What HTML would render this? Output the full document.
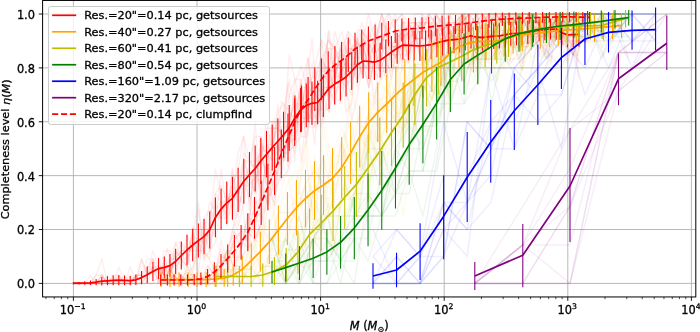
<!DOCTYPE html>
<html><head><meta charset="utf-8"><title>Completeness level</title>
<style>html,body{margin:0;padding:0;background:#fff}body{width:700px;height:332px;overflow:hidden}</style></head>
<body>
<svg width="700" height="332" viewBox="0 0 700 332" style="display:block;font-family:'DejaVu Sans','Liberation Sans',sans-serif">
<style>text{stroke:#000;stroke-width:0.3px;fill:#000}</style>
<rect width="700" height="332" fill="#fff"/>
<line x1="73.40" y1="0.45" x2="73.40" y2="296.95" stroke="#b0b0b0" stroke-width="0.9"/>
<line x1="197.00" y1="0.45" x2="197.00" y2="296.95" stroke="#b0b0b0" stroke-width="0.9"/>
<line x1="320.60" y1="0.45" x2="320.60" y2="296.95" stroke="#b0b0b0" stroke-width="0.9"/>
<line x1="444.20" y1="0.45" x2="444.20" y2="296.95" stroke="#b0b0b0" stroke-width="0.9"/>
<line x1="567.80" y1="0.45" x2="567.80" y2="296.95" stroke="#b0b0b0" stroke-width="0.9"/>
<line x1="691.40" y1="0.45" x2="691.40" y2="296.95" stroke="#b0b0b0" stroke-width="0.9"/>
<line x1="42.60" y1="283.40" x2="695.80" y2="283.40" stroke="#b0b0b0" stroke-width="0.9"/>
<line x1="42.60" y1="229.52" x2="695.80" y2="229.52" stroke="#b0b0b0" stroke-width="0.9"/>
<line x1="42.60" y1="175.64" x2="695.80" y2="175.64" stroke="#b0b0b0" stroke-width="0.9"/>
<line x1="42.60" y1="121.76" x2="695.80" y2="121.76" stroke="#b0b0b0" stroke-width="0.9"/>
<line x1="42.60" y1="67.88" x2="695.80" y2="67.88" stroke="#b0b0b0" stroke-width="0.9"/>
<line x1="42.60" y1="14.00" x2="695.80" y2="14.00" stroke="#b0b0b0" stroke-width="0.9"/>
<clipPath id="c"><rect x="42.6" y="0.45" width="653.1999999999999" height="296.5"/></clipPath>
<g clip-path="url(#c)" stroke-linejoin="round">
<polyline fill="none" points="73.4,283.4 79.1,283.4 84.8,283.4 90.4,283.4 96.1,275.2 101.8,275.2 107.5,283.4 113.2,283.4 118.8,283.4 124.5,283.4 130.2,283.4 135.9,283.4 141.6,275.2 147.2,283.4 152.9,267.1 158.6,267.1 164.3,283.4 170.0,267.1 175.6,267.1 181.3,258.9 187.0,258.9 192.7,234.4 198.4,242.6 204.0,250.7 209.7,226.3 215.4,201.8 221.1,218.1 226.8,218.1 232.4,201.8 238.1,152.8 243.8,136.5 249.5,160.9 255.2,136.5 260.8,136.5 266.5,160.9 272.2,120.1 277.9,152.8 283.6,136.5 289.2,120.1 294.9,103.8 300.6,103.8 306.3,103.8 312.0,87.5 317.6,87.5 323.3,95.6 329.0,112.0 334.7,87.5 340.4,71.1 346.0,63.0 351.7,71.1 357.4,46.7 363.1,46.7 368.8,63.0 374.4,38.5 380.1,54.8 385.8,46.7 391.5,63.0 397.2,54.8 402.8,54.8 408.5,54.8 414.2,38.5 419.9,54.8 425.6,38.5 431.2,46.7 436.9,38.5 442.6,38.5 448.3,22.2 454.0,30.3 459.6,71.1 465.3,30.3 471.0,38.5 476.7,38.5 482.4,46.7 488.0,38.5 493.7,38.5 499.4,22.2 505.1,22.2 510.8,22.2 516.4,22.2 522.1,22.2 527.8,22.2 533.5,30.3 539.2,22.2 544.8,46.7 550.5,30.3 556.2,30.3 561.9,38.5 567.6,22.2 573.2,54.8 578.9,46.7" stroke="#ff0000" stroke-width="1.5" stroke-opacity="0.065"/>
<polyline fill="none" points="73.4,283.4 79.1,283.4 84.8,283.4 90.4,283.4 96.1,283.4 101.8,275.2 107.5,283.4 113.2,283.4 118.8,283.4 124.5,283.4 130.2,283.4 135.9,275.2 141.6,275.2 147.2,258.9 152.9,258.9 158.6,267.1 164.3,283.4 170.0,267.1 175.6,242.6 181.3,242.6 187.0,250.7 192.7,250.7 198.4,250.7 204.0,250.7 209.7,258.9 215.4,193.6 221.1,201.8 226.8,226.3 232.4,201.8 238.1,226.3 243.8,201.8 249.5,160.9 255.2,160.9 260.8,160.9 266.5,169.1 272.2,152.8 277.9,177.3 283.6,128.3 289.2,95.6 294.9,79.3 300.6,79.3 306.3,144.6 312.0,103.8 317.6,120.1 323.3,71.1 329.0,71.1 334.7,95.6 340.4,103.8 346.0,71.1 351.7,46.7 357.4,87.5 363.1,46.7 368.8,71.1 374.4,46.7 380.1,71.1 385.8,71.1 391.5,63.0 397.2,38.5 402.8,54.8 408.5,30.3 414.2,38.5 419.9,38.5 425.6,63.0 431.2,30.3 436.9,63.0 442.6,54.8 448.3,71.1 454.0,30.3 459.6,30.3 465.3,30.3 471.0,46.7 476.7,63.0 482.4,46.7 488.0,38.5 493.7,30.3 499.4,46.7 505.1,46.7 510.8,22.2 516.4,22.2 522.1,46.7 527.8,46.7 533.5,22.2 539.2,22.2 544.8,30.3 550.5,30.3 556.2,14.0 561.9,46.7 567.6,38.5 573.2,46.7 578.9,22.2" stroke="#ff0000" stroke-width="1.5" stroke-opacity="0.065"/>
<polyline fill="none" points="73.4,283.4 79.1,283.4 84.8,283.4 90.4,275.2 96.1,283.4 101.8,275.2 107.5,283.4 113.2,283.4 118.8,275.2 124.5,283.4 130.2,283.4 135.9,283.4 141.6,258.9 147.2,275.2 152.9,258.9 158.6,283.4 164.3,267.1 170.0,283.4 175.6,242.6 181.3,258.9 187.0,275.2 192.7,267.1 198.4,242.6 204.0,258.9 209.7,250.7 215.4,218.1 221.1,209.9 226.8,201.8 232.4,193.6 238.1,193.6 243.8,177.3 249.5,201.8 255.2,185.4 260.8,144.6 266.5,177.3 272.2,128.3 277.9,128.3 283.6,136.5 289.2,54.8 294.9,79.3 300.6,103.8 306.3,87.5 312.0,112.0 317.6,120.1 323.3,95.6 329.0,95.6 334.7,79.3 340.4,46.7 346.0,71.1 351.7,63.0 357.4,71.1 363.1,38.5 368.8,46.7 374.4,79.3 380.1,46.7 385.8,54.8 391.5,79.3 397.2,38.5 402.8,30.3 408.5,54.8 414.2,46.7 419.9,46.7 425.6,22.2 431.2,38.5 436.9,14.0 442.6,30.3 448.3,46.7 454.0,22.2 459.6,30.3 465.3,71.1 471.0,63.0 476.7,38.5 482.4,46.7 488.0,38.5 493.7,30.3 499.4,46.7 505.1,22.2 510.8,46.7 516.4,14.0 522.1,46.7 527.8,38.5 533.5,30.3 539.2,30.3 544.8,30.3 550.5,38.5 556.2,14.0 561.9,30.3 567.6,46.7 573.2,54.8 578.9,22.2" stroke="#ff0000" stroke-width="1.5" stroke-opacity="0.065"/>
<polyline fill="none" points="73.4,283.4 79.1,283.4 84.8,283.4 90.4,283.4 96.1,283.4 101.8,283.4 107.5,275.2 113.2,283.4 118.8,283.4 124.5,283.4 130.2,283.4 135.9,275.2 141.6,275.2 147.2,267.1 152.9,258.9 158.6,275.2 164.3,250.7 170.0,250.7 175.6,258.9 181.3,250.7 187.0,267.1 192.7,234.4 198.4,258.9 204.0,234.4 209.7,250.7 215.4,242.6 221.1,201.8 226.8,201.8 232.4,185.4 238.1,169.1 243.8,136.5 249.5,209.9 255.2,160.9 260.8,152.8 266.5,144.6 272.2,152.8 277.9,144.6 283.6,160.9 289.2,128.3 294.9,120.1 300.6,120.1 306.3,79.3 312.0,95.6 317.6,71.1 323.3,71.1 329.0,30.3 334.7,71.1 340.4,63.0 346.0,79.3 351.7,71.1 357.4,79.3 363.1,63.0 368.8,87.5 374.4,54.8 380.1,71.1 385.8,54.8 391.5,54.8 397.2,38.5 402.8,71.1 408.5,54.8 414.2,30.3 419.9,46.7 425.6,87.5 431.2,22.2 436.9,38.5 442.6,46.7 448.3,22.2 454.0,46.7 459.6,38.5 465.3,46.7 471.0,38.5 476.7,54.8 482.4,30.3 488.0,38.5 493.7,14.0 499.4,38.5 505.1,30.3 510.8,63.0 516.4,54.8 522.1,22.2 527.8,14.0 533.5,22.2 539.2,22.2 544.8,38.5 550.5,30.3 556.2,30.3 561.9,30.3 567.6,14.0 573.2,30.3 578.9,79.3" stroke="#ff0000" stroke-width="1.5" stroke-opacity="0.065"/>
<polyline fill="none" points="73.4,283.4 79.1,283.4 84.8,283.4 90.4,283.4 96.1,283.4 101.8,283.4 107.5,283.4 113.2,283.4 118.8,283.4 124.5,283.4 130.2,283.4 135.9,275.2 141.6,283.4 147.2,275.2 152.9,267.1 158.6,267.1 164.3,275.2 170.0,275.2 175.6,250.7 181.3,258.9 187.0,267.1 192.7,226.3 198.4,275.2 204.0,218.1 209.7,242.6 215.4,226.3 221.1,169.1 226.8,209.9 232.4,185.4 238.1,193.6 243.8,152.8 249.5,160.9 255.2,169.1 260.8,193.6 266.5,160.9 272.2,144.6 277.9,128.3 283.6,136.5 289.2,112.0 294.9,120.1 300.6,112.0 306.3,112.0 312.0,120.1 317.6,112.0 323.3,87.5 329.0,87.5 334.7,103.8 340.4,71.1 346.0,87.5 351.7,120.1 357.4,95.6 363.1,63.0 368.8,54.8 374.4,63.0 380.1,71.1 385.8,54.8 391.5,46.7 397.2,46.7 402.8,22.2 408.5,38.5 414.2,30.3 419.9,54.8 425.6,71.1 431.2,30.3 436.9,22.2 442.6,46.7 448.3,30.3 454.0,38.5 459.6,22.2 465.3,22.2 471.0,38.5 476.7,38.5 482.4,54.8 488.0,63.0 493.7,30.3 499.4,38.5 505.1,30.3 510.8,30.3 516.4,30.3 522.1,63.0 527.8,38.5 533.5,22.2 539.2,38.5 544.8,54.8 550.5,46.7 556.2,30.3 561.9,14.0 567.6,46.7 573.2,54.8 578.9,38.5" stroke="#ff0000" stroke-width="1.5" stroke-opacity="0.065"/>
<polyline fill="none" points="73.4,283.4 79.1,283.4 84.8,283.4 90.4,283.4 96.1,283.4 101.8,283.4 107.5,283.4 113.2,275.2 118.8,283.4 124.5,283.4 130.2,283.4 135.9,275.2 141.6,283.4 147.2,267.1 152.9,267.1 158.6,283.4 164.3,267.1 170.0,258.9 175.6,258.9 181.3,242.6 187.0,258.9 192.7,242.6 198.4,250.7 204.0,218.1 209.7,209.9 215.4,218.1 221.1,218.1 226.8,209.9 232.4,193.6 238.1,218.1 243.8,177.3 249.5,185.4 255.2,177.3 260.8,169.1 266.5,128.3 272.2,128.3 277.9,128.3 283.6,112.0 289.2,79.3 294.9,112.0 300.6,136.5 306.3,136.5 312.0,103.8 317.6,95.6 323.3,120.1 329.0,87.5 334.7,87.5 340.4,87.5 346.0,46.7 351.7,87.5 357.4,38.5 363.1,63.0 368.8,87.5 374.4,63.0 380.1,54.8 385.8,63.0 391.5,71.1 397.2,54.8 402.8,22.2 408.5,63.0 414.2,22.2 419.9,54.8 425.6,63.0 431.2,30.3 436.9,46.7 442.6,46.7 448.3,30.3 454.0,30.3 459.6,22.2 465.3,22.2 471.0,22.2 476.7,30.3 482.4,46.7 488.0,38.5 493.7,46.7 499.4,38.5 505.1,46.7 510.8,22.2 516.4,30.3 522.1,14.0 527.8,30.3 533.5,46.7 539.2,30.3 544.8,22.2 550.5,22.2 556.2,22.2 561.9,46.7 567.6,63.0 573.2,38.5 578.9,63.0" stroke="#ff0000" stroke-width="1.5" stroke-opacity="0.065"/>
<polyline fill="none" points="73.4,283.4 79.1,283.4 84.8,283.4 90.4,283.4 96.1,283.4 101.8,283.4 107.5,283.4 113.2,283.4 118.8,267.1 124.5,283.4 130.2,267.1 135.9,283.4 141.6,258.9 147.2,275.2 152.9,267.1 158.6,283.4 164.3,267.1 170.0,275.2 175.6,258.9 181.3,250.7 187.0,250.7 192.7,234.4 198.4,201.8 204.0,258.9 209.7,226.3 215.4,209.9 221.1,201.8 226.8,218.1 232.4,169.1 238.1,201.8 243.8,160.9 249.5,177.3 255.2,193.6 260.8,136.5 266.5,185.4 272.2,169.1 277.9,144.6 283.6,160.9 289.2,144.6 294.9,112.0 300.6,87.5 306.3,87.5 312.0,38.5 317.6,112.0 323.3,63.0 329.0,71.1 334.7,71.1 340.4,79.3 346.0,87.5 351.7,71.1 357.4,63.0 363.1,38.5 368.8,54.8 374.4,46.7 380.1,71.1 385.8,22.2 391.5,54.8 397.2,54.8 402.8,46.7 408.5,22.2 414.2,38.5 419.9,38.5 425.6,38.5 431.2,38.5 436.9,71.1 442.6,54.8 448.3,54.8 454.0,46.7 459.6,30.3 465.3,63.0 471.0,30.3 476.7,22.2 482.4,46.7 488.0,30.3 493.7,46.7 499.4,46.7 505.1,30.3 510.8,30.3 516.4,38.5 522.1,38.5 527.8,30.3 533.5,22.2 539.2,22.2 544.8,30.3 550.5,30.3 556.2,38.5 561.9,38.5 567.6,30.3 573.2,22.2 578.9,38.5" stroke="#ff0000" stroke-width="1.5" stroke-opacity="0.065"/>
<polyline fill="none" points="73.4,283.4 79.1,283.4 84.8,283.4 90.4,283.4 96.1,283.4 101.8,283.4 107.5,283.4 113.2,275.2 118.8,275.2 124.5,283.4 130.2,275.2 135.9,283.4 141.6,283.4 147.2,283.4 152.9,283.4 158.6,275.2 164.3,258.9 170.0,275.2 175.6,250.7 181.3,258.9 187.0,267.1 192.7,242.6 198.4,242.6 204.0,242.6 209.7,226.3 215.4,169.1 221.1,193.6 226.8,218.1 232.4,169.1 238.1,209.9 243.8,185.4 249.5,185.4 255.2,120.1 260.8,218.1 266.5,144.6 272.2,144.6 277.9,120.1 283.6,144.6 289.2,144.6 294.9,136.5 300.6,79.3 306.3,120.1 312.0,95.6 317.6,128.3 323.3,95.6 329.0,63.0 334.7,95.6 340.4,79.3 346.0,71.1 351.7,79.3 357.4,63.0 363.1,30.3 368.8,87.5 374.4,54.8 380.1,46.7 385.8,30.3 391.5,63.0 397.2,71.1 402.8,46.7 408.5,54.8 414.2,38.5 419.9,38.5 425.6,38.5 431.2,38.5 436.9,46.7 442.6,30.3 448.3,22.2 454.0,46.7 459.6,30.3 465.3,30.3 471.0,22.2 476.7,14.0 482.4,38.5 488.0,30.3 493.7,54.8 499.4,14.0 505.1,46.7 510.8,14.0 516.4,22.2 522.1,14.0 527.8,30.3 533.5,22.2 539.2,22.2 544.8,54.8 550.5,30.3 556.2,46.7 561.9,46.7 567.6,30.3 573.2,38.5 578.9,22.2" stroke="#ff0000" stroke-width="1.5" stroke-opacity="0.065"/>
<polyline fill="none" points="73.4,283.4 79.1,283.4 84.8,283.4 90.4,283.4 96.1,283.4 101.8,275.2 107.5,283.4 113.2,283.4 118.8,283.4 124.5,275.2 130.2,283.4 135.9,283.4 141.6,283.4 147.2,275.2 152.9,250.7 158.6,267.1 164.3,275.2 170.0,258.9 175.6,275.2 181.3,250.7 187.0,250.7 192.7,275.2 198.4,242.6 204.0,234.4 209.7,201.8 215.4,209.9 221.1,218.1 226.8,193.6 232.4,209.9 238.1,177.3 243.8,177.3 249.5,169.1 255.2,193.6 260.8,144.6 266.5,152.8 272.2,160.9 277.9,103.8 283.6,152.8 289.2,169.1 294.9,120.1 300.6,87.5 306.3,136.5 312.0,103.8 317.6,87.5 323.3,103.8 329.0,112.0 334.7,63.0 340.4,79.3 346.0,79.3 351.7,95.6 357.4,38.5 363.1,63.0 368.8,71.1 374.4,71.1 380.1,79.3 385.8,63.0 391.5,54.8 397.2,54.8 402.8,30.3 408.5,63.0 414.2,46.7 419.9,22.2 425.6,63.0 431.2,54.8 436.9,46.7 442.6,22.2 448.3,46.7 454.0,30.3 459.6,54.8 465.3,22.2 471.0,30.3 476.7,22.2 482.4,14.0 488.0,30.3 493.7,38.5 499.4,30.3 505.1,30.3 510.8,54.8 516.4,38.5 522.1,54.8 527.8,22.2 533.5,22.2 539.2,54.8 544.8,14.0 550.5,38.5 556.2,46.7 561.9,38.5 567.6,38.5 573.2,30.3 578.9,30.3" stroke="#ff0000" stroke-width="1.5" stroke-opacity="0.065"/>
<polyline fill="none" points="73.4,283.4 79.1,283.4 84.8,283.4 90.4,283.4 96.1,275.2 101.8,258.9 107.5,283.4 113.2,283.4 118.8,275.2 124.5,283.4 130.2,283.4 135.9,275.2 141.6,275.2 147.2,275.2 152.9,267.1 158.6,275.2 164.3,267.1 170.0,275.2 175.6,258.9 181.3,267.1 187.0,234.4 192.7,250.7 198.4,209.9 204.0,250.7 209.7,218.1 215.4,193.6 221.1,185.4 226.8,201.8 232.4,193.6 238.1,201.8 243.8,160.9 249.5,160.9 255.2,169.1 260.8,160.9 266.5,120.1 272.2,152.8 277.9,112.0 283.6,103.8 289.2,144.6 294.9,120.1 300.6,112.0 306.3,103.8 312.0,63.0 317.6,120.1 323.3,87.5 329.0,87.5 334.7,79.3 340.4,54.8 346.0,112.0 351.7,103.8 357.4,30.3 363.1,30.3 368.8,54.8 374.4,103.8 380.1,54.8 385.8,79.3 391.5,46.7 397.2,46.7 402.8,63.0 408.5,46.7 414.2,38.5 419.9,46.7 425.6,46.7 431.2,38.5 436.9,30.3 442.6,30.3 448.3,46.7 454.0,30.3 459.6,30.3 465.3,30.3 471.0,71.1 476.7,71.1 482.4,38.5 488.0,30.3 493.7,30.3 499.4,54.8 505.1,38.5 510.8,46.7 516.4,46.7 522.1,46.7 527.8,46.7 533.5,30.3 539.2,22.2 544.8,38.5 550.5,63.0 556.2,30.3 561.9,22.2 567.6,54.8 573.2,54.8 578.9,54.8" stroke="#ff0000" stroke-width="1.5" stroke-opacity="0.065"/>
<polyline fill="none" points="161.0,283.4 170.0,269.2 179.1,283.4 188.1,283.4 197.1,255.0 206.2,255.0 215.2,269.2 224.2,283.4 233.2,269.2 242.3,269.2 251.3,269.2 260.3,226.7 269.4,240.9 278.4,240.9 287.4,226.7 296.4,240.9 305.5,226.7 314.5,184.1 323.5,198.3 332.6,198.3 341.6,141.6 350.6,198.3 359.7,184.1 368.7,113.3 377.7,141.6 386.8,127.4 395.8,113.3 404.8,42.4 413.8,84.9 422.9,70.7 431.9,56.5 440.9,56.5 450.0,56.5 459.0,42.4 468.0,42.4 477.0,28.2 486.1,28.2 495.1,42.4 504.1,70.7 513.2,14.0 522.2,42.4 531.2,42.4 540.3,42.4 549.3,28.2 558.3,14.0 567.3,14.0 576.4,42.4 585.4,42.4 594.4,42.4 603.5,14.0 612.5,14.0 621.5,14.0" stroke="#ffa500" stroke-width="1.5" stroke-opacity="0.065"/>
<polyline fill="none" points="161.0,283.4 170.0,283.4 179.1,283.4 188.1,269.2 197.1,283.4 206.2,283.4 215.2,283.4 224.2,283.4 233.2,269.2 242.3,283.4 251.3,255.0 260.3,226.7 269.4,226.7 278.4,198.3 287.4,170.0 296.4,226.7 305.5,226.7 314.5,155.8 323.5,198.3 332.6,212.5 341.6,155.8 350.6,155.8 359.7,113.3 368.7,170.0 377.7,113.3 386.8,170.0 395.8,70.7 404.8,42.4 413.8,113.3 422.9,56.5 431.9,99.1 440.9,56.5 450.0,56.5 459.0,28.2 468.0,28.2 477.0,42.4 486.1,70.7 495.1,56.5 504.1,56.5 513.2,42.4 522.2,70.7 531.2,28.2 540.3,14.0 549.3,14.0 558.3,28.2 567.3,28.2 576.4,14.0 585.4,14.0 594.4,14.0 603.5,14.0 612.5,14.0 621.5,28.2" stroke="#ffa500" stroke-width="1.5" stroke-opacity="0.065"/>
<polyline fill="none" points="161.0,283.4 170.0,269.2 179.1,283.4 188.1,269.2 197.1,283.4 206.2,283.4 215.2,283.4 224.2,269.2 233.2,269.2 242.3,269.2 251.3,269.2 260.3,283.4 269.4,255.0 278.4,269.2 287.4,226.7 296.4,226.7 305.5,184.1 314.5,170.0 323.5,184.1 332.6,184.1 341.6,184.1 350.6,99.1 359.7,212.5 368.7,127.4 377.7,141.6 386.8,99.1 395.8,99.1 404.8,70.7 413.8,127.4 422.9,84.9 431.9,99.1 440.9,70.7 450.0,28.2 459.0,42.4 468.0,42.4 477.0,70.7 486.1,42.4 495.1,28.2 504.1,42.4 513.2,42.4 522.2,70.7 531.2,42.4 540.3,14.0 549.3,70.7 558.3,14.0 567.3,28.2 576.4,56.5 585.4,28.2 594.4,28.2 603.5,28.2 612.5,14.0 621.5,14.0" stroke="#ffa500" stroke-width="1.5" stroke-opacity="0.065"/>
<polyline fill="none" points="161.0,283.4 170.0,283.4 179.1,283.4 188.1,283.4 197.1,283.4 206.2,269.2 215.2,283.4 224.2,283.4 233.2,269.2 242.3,283.4 251.3,240.9 260.3,240.9 269.4,240.9 278.4,226.7 287.4,226.7 296.4,212.5 305.5,184.1 314.5,240.9 323.5,212.5 332.6,155.8 341.6,155.8 350.6,141.6 359.7,113.3 368.7,99.1 377.7,113.3 386.8,84.9 395.8,113.3 404.8,113.3 413.8,99.1 422.9,84.9 431.9,99.1 440.9,70.7 450.0,42.4 459.0,28.2 468.0,14.0 477.0,42.4 486.1,56.5 495.1,42.4 504.1,14.0 513.2,42.4 522.2,42.4 531.2,28.2 540.3,28.2 549.3,14.0 558.3,28.2 567.3,14.0 576.4,28.2 585.4,42.4 594.4,28.2 603.5,14.0 612.5,42.4 621.5,28.2" stroke="#ffa500" stroke-width="1.5" stroke-opacity="0.065"/>
<polyline fill="none" points="161.0,269.2 170.0,283.4 179.1,283.4 188.1,283.4 197.1,283.4 206.2,283.4 215.2,283.4 224.2,283.4 233.2,240.9 242.3,269.2 251.3,255.0 260.3,226.7 269.4,269.2 278.4,212.5 287.4,212.5 296.4,212.5 305.5,184.1 314.5,170.0 323.5,184.1 332.6,170.0 341.6,141.6 350.6,170.0 359.7,170.0 368.7,127.4 377.7,155.8 386.8,113.3 395.8,99.1 404.8,141.6 413.8,84.9 422.9,56.5 431.9,70.7 440.9,56.5 450.0,99.1 459.0,28.2 468.0,42.4 477.0,42.4 486.1,14.0 495.1,42.4 504.1,42.4 513.2,28.2 522.2,70.7 531.2,14.0 540.3,42.4 549.3,28.2 558.3,28.2 567.3,28.2 576.4,28.2 585.4,42.4 594.4,14.0 603.5,28.2 612.5,28.2 621.5,14.0" stroke="#ffa500" stroke-width="1.5" stroke-opacity="0.065"/>
<polyline fill="none" points="161.0,283.4 170.0,269.2 179.1,283.4 188.1,283.4 197.1,283.4 206.2,283.4 215.2,283.4 224.2,255.0 233.2,283.4 242.3,283.4 251.3,255.0 260.3,283.4 269.4,255.0 278.4,212.5 287.4,212.5 296.4,198.3 305.5,155.8 314.5,226.7 323.5,113.3 332.6,170.0 341.6,155.8 350.6,212.5 359.7,170.0 368.7,113.3 377.7,99.1 386.8,113.3 395.8,84.9 404.8,127.4 413.8,113.3 422.9,56.5 431.9,42.4 440.9,56.5 450.0,113.3 459.0,28.2 468.0,42.4 477.0,28.2 486.1,42.4 495.1,70.7 504.1,28.2 513.2,14.0 522.2,42.4 531.2,42.4 540.3,28.2 549.3,14.0 558.3,28.2 567.3,42.4 576.4,28.2 585.4,14.0 594.4,28.2 603.5,14.0 612.5,28.2 621.5,14.0" stroke="#ffa500" stroke-width="1.5" stroke-opacity="0.065"/>
<polyline fill="none" points="161.0,283.4 170.0,283.4 179.1,283.4 188.1,283.4 197.1,283.4 206.2,255.0 215.2,269.2 224.2,269.2 233.2,283.4 242.3,240.9 251.3,226.7 260.3,269.2 269.4,255.0 278.4,255.0 287.4,240.9 296.4,184.1 305.5,141.6 314.5,184.1 323.5,198.3 332.6,155.8 341.6,127.4 350.6,155.8 359.7,141.6 368.7,113.3 377.7,113.3 386.8,99.1 395.8,56.5 404.8,127.4 413.8,84.9 422.9,84.9 431.9,56.5 440.9,84.9 450.0,42.4 459.0,70.7 468.0,84.9 477.0,28.2 486.1,42.4 495.1,14.0 504.1,56.5 513.2,42.4 522.2,14.0 531.2,56.5 540.3,56.5 549.3,28.2 558.3,42.4 567.3,14.0 576.4,28.2 585.4,14.0 594.4,14.0 603.5,14.0 612.5,28.2 621.5,14.0" stroke="#ffa500" stroke-width="1.5" stroke-opacity="0.065"/>
<polyline fill="none" points="161.0,269.2 170.0,283.4 179.1,283.4 188.1,269.2 197.1,269.2 206.2,283.4 215.2,283.4 224.2,269.2 233.2,269.2 242.3,269.2 251.3,240.9 260.3,269.2 269.4,184.1 278.4,240.9 287.4,240.9 296.4,198.3 305.5,198.3 314.5,184.1 323.5,155.8 332.6,255.0 341.6,198.3 350.6,184.1 359.7,141.6 368.7,113.3 377.7,127.4 386.8,99.1 395.8,42.4 404.8,113.3 413.8,84.9 422.9,70.7 431.9,56.5 440.9,84.9 450.0,56.5 459.0,28.2 468.0,42.4 477.0,84.9 486.1,28.2 495.1,14.0 504.1,14.0 513.2,14.0 522.2,14.0 531.2,28.2 540.3,56.5 549.3,56.5 558.3,56.5 567.3,28.2 576.4,28.2 585.4,14.0 594.4,42.4 603.5,14.0 612.5,28.2 621.5,14.0" stroke="#ffa500" stroke-width="1.5" stroke-opacity="0.065"/>
<polyline fill="none" points="161.0,283.4 170.0,283.4 179.1,283.4 188.1,283.4 197.1,283.4 206.2,283.4 215.2,269.2 224.2,283.4 233.2,255.0 242.3,269.2 251.3,269.2 260.3,255.0 269.4,198.3 278.4,240.9 287.4,212.5 296.4,212.5 305.5,141.6 314.5,240.9 323.5,127.4 332.6,184.1 341.6,141.6 350.6,184.1 359.7,155.8 368.7,113.3 377.7,84.9 386.8,70.7 395.8,70.7 404.8,127.4 413.8,70.7 422.9,56.5 431.9,84.9 440.9,56.5 450.0,56.5 459.0,28.2 468.0,28.2 477.0,28.2 486.1,28.2 495.1,28.2 504.1,42.4 513.2,28.2 522.2,28.2 531.2,14.0 540.3,28.2 549.3,28.2 558.3,14.0 567.3,42.4 576.4,56.5 585.4,28.2 594.4,14.0 603.5,56.5 612.5,14.0 621.5,14.0" stroke="#ffa500" stroke-width="1.5" stroke-opacity="0.065"/>
<polyline fill="none" points="161.0,269.2 170.0,269.2 179.1,283.4 188.1,283.4 197.1,283.4 206.2,283.4 215.2,269.2 224.2,283.4 233.2,283.4 242.3,283.4 251.3,226.7 260.3,212.5 269.4,240.9 278.4,212.5 287.4,184.1 296.4,170.0 305.5,226.7 314.5,198.3 323.5,155.8 332.6,198.3 341.6,170.0 350.6,84.9 359.7,127.4 368.7,127.4 377.7,84.9 386.8,70.7 395.8,127.4 404.8,113.3 413.8,56.5 422.9,113.3 431.9,99.1 440.9,56.5 450.0,84.9 459.0,28.2 468.0,28.2 477.0,70.7 486.1,42.4 495.1,28.2 504.1,28.2 513.2,28.2 522.2,14.0 531.2,28.2 540.3,28.2 549.3,14.0 558.3,42.4 567.3,14.0 576.4,14.0 585.4,42.4 594.4,28.2 603.5,14.0 612.5,14.0 621.5,14.0" stroke="#ffa500" stroke-width="1.5" stroke-opacity="0.065"/>
<polyline fill="none" points="216.0,283.4 227.7,249.7 239.4,283.4 251.1,266.6 262.8,283.4 274.5,283.4 286.2,249.7 297.9,249.7 309.6,266.6 321.3,232.9 333.0,199.2 344.7,199.2 356.4,199.2 368.1,182.4 379.8,165.5 391.5,131.9 403.2,216.0 414.9,131.9 426.6,81.3 438.3,98.2 450.0,30.8 461.7,64.5 473.4,64.5 485.1,30.8 496.8,47.7 508.5,30.8 520.2,14.0 531.9,64.5 543.6,14.0 555.3,30.8 567.0,14.0 578.7,30.8 590.4,14.0 602.1,47.7 613.8,14.0 625.5,30.8" stroke="#bfbf00" stroke-width="1.5" stroke-opacity="0.065"/>
<polyline fill="none" points="216.0,283.4 227.7,266.6 239.4,266.6 251.1,283.4 262.8,283.4 274.5,283.4 286.2,266.6 297.9,266.6 309.6,266.6 321.3,216.0 333.0,199.2 344.7,216.0 356.4,216.0 368.1,131.9 379.8,165.5 391.5,81.3 403.2,148.7 414.9,64.5 426.6,64.5 438.3,64.5 450.0,64.5 461.7,30.8 473.4,30.8 485.1,47.7 496.8,14.0 508.5,64.5 520.2,14.0 531.9,14.0 543.6,14.0 555.3,14.0 567.0,47.7 578.7,14.0 590.4,30.8 602.1,30.8 613.8,14.0 625.5,14.0" stroke="#bfbf00" stroke-width="1.5" stroke-opacity="0.065"/>
<polyline fill="none" points="216.0,266.6 227.7,283.4 239.4,266.6 251.1,283.4 262.8,283.4 274.5,232.9 286.2,283.4 297.9,216.0 309.6,249.7 321.3,216.0 333.0,249.7 344.7,216.0 356.4,199.2 368.1,148.7 379.8,81.3 391.5,98.2 403.2,64.5 414.9,98.2 426.6,131.9 438.3,115.0 450.0,98.2 461.7,64.5 473.4,47.7 485.1,14.0 496.8,81.3 508.5,30.8 520.2,30.8 531.9,14.0 543.6,14.0 555.3,14.0 567.0,47.7 578.7,30.8 590.4,30.8 602.1,14.0 613.8,30.8 625.5,14.0" stroke="#bfbf00" stroke-width="1.5" stroke-opacity="0.065"/>
<polyline fill="none" points="216.0,283.4 227.7,283.4 239.4,283.4 251.1,266.6 262.8,283.4 274.5,266.6 286.2,232.9 297.9,266.6 309.6,232.9 321.3,216.0 333.0,216.0 344.7,216.0 356.4,182.4 368.1,131.9 379.8,165.5 391.5,148.7 403.2,98.2 414.9,81.3 426.6,131.9 438.3,30.8 450.0,98.2 461.7,14.0 473.4,64.5 485.1,30.8 496.8,47.7 508.5,30.8 520.2,14.0 531.9,14.0 543.6,14.0 555.3,14.0 567.0,14.0 578.7,14.0 590.4,47.7 602.1,30.8 613.8,14.0 625.5,14.0" stroke="#bfbf00" stroke-width="1.5" stroke-opacity="0.065"/>
<polyline fill="none" points="216.0,283.4 227.7,249.7 239.4,283.4 251.1,283.4 262.8,266.6 274.5,266.6 286.2,249.7 297.9,249.7 309.6,232.9 321.3,232.9 333.0,182.4 344.7,131.9 356.4,199.2 368.1,199.2 379.8,98.2 391.5,115.0 403.2,131.9 414.9,64.5 426.6,81.3 438.3,47.7 450.0,14.0 461.7,14.0 473.4,30.8 485.1,47.7 496.8,30.8 508.5,30.8 520.2,30.8 531.9,14.0 543.6,30.8 555.3,30.8 567.0,14.0 578.7,14.0 590.4,14.0 602.1,14.0 613.8,14.0 625.5,14.0" stroke="#bfbf00" stroke-width="1.5" stroke-opacity="0.065"/>
<polyline fill="none" points="216.0,283.4 227.7,283.4 239.4,283.4 251.1,283.4 262.8,266.6 274.5,266.6 286.2,283.4 297.9,266.6 309.6,232.9 321.3,216.0 333.0,216.0 344.7,199.2 356.4,131.9 368.1,148.7 379.8,98.2 391.5,98.2 403.2,131.9 414.9,98.2 426.6,64.5 438.3,30.8 450.0,98.2 461.7,14.0 473.4,64.5 485.1,30.8 496.8,64.5 508.5,14.0 520.2,14.0 531.9,30.8 543.6,30.8 555.3,30.8 567.0,14.0 578.7,30.8 590.4,14.0 602.1,14.0 613.8,14.0 625.5,14.0" stroke="#bfbf00" stroke-width="1.5" stroke-opacity="0.065"/>
<polyline fill="none" points="216.0,266.6 227.7,283.4 239.4,283.4 251.1,283.4 262.8,249.7 274.5,249.7 286.2,283.4 297.9,266.6 309.6,199.2 321.3,232.9 333.0,249.7 344.7,182.4 356.4,216.0 368.1,216.0 379.8,131.9 391.5,199.2 403.2,81.3 414.9,131.9 426.6,81.3 438.3,98.2 450.0,47.7 461.7,47.7 473.4,47.7 485.1,30.8 496.8,30.8 508.5,14.0 520.2,47.7 531.9,30.8 543.6,14.0 555.3,47.7 567.0,14.0 578.7,14.0 590.4,30.8 602.1,30.8 613.8,14.0 625.5,14.0" stroke="#bfbf00" stroke-width="1.5" stroke-opacity="0.065"/>
<polyline fill="none" points="216.0,283.4 227.7,266.6 239.4,283.4 251.1,283.4 262.8,266.6 274.5,283.4 286.2,266.6 297.9,249.7 309.6,182.4 321.3,232.9 333.0,232.9 344.7,182.4 356.4,148.7 368.1,182.4 379.8,148.7 391.5,148.7 403.2,115.0 414.9,131.9 426.6,47.7 438.3,98.2 450.0,30.8 461.7,47.7 473.4,81.3 485.1,47.7 496.8,81.3 508.5,47.7 520.2,47.7 531.9,14.0 543.6,30.8 555.3,30.8 567.0,14.0 578.7,14.0 590.4,30.8 602.1,47.7 613.8,14.0 625.5,14.0" stroke="#bfbf00" stroke-width="1.5" stroke-opacity="0.065"/>
<polyline fill="none" points="216.0,283.4 227.7,283.4 239.4,283.4 251.1,283.4 262.8,283.4 274.5,266.6 286.2,266.6 297.9,232.9 309.6,249.7 321.3,165.5 333.0,249.7 344.7,182.4 356.4,216.0 368.1,199.2 379.8,115.0 391.5,131.9 403.2,98.2 414.9,47.7 426.6,115.0 438.3,81.3 450.0,14.0 461.7,47.7 473.4,47.7 485.1,14.0 496.8,14.0 508.5,47.7 520.2,47.7 531.9,14.0 543.6,14.0 555.3,30.8 567.0,30.8 578.7,30.8 590.4,30.8 602.1,30.8 613.8,30.8 625.5,14.0" stroke="#bfbf00" stroke-width="1.5" stroke-opacity="0.065"/>
<polyline fill="none" points="216.0,266.6 227.7,249.7 239.4,283.4 251.1,283.4 262.8,266.6 274.5,266.6 286.2,266.6 297.9,283.4 309.6,249.7 321.3,232.9 333.0,199.2 344.7,148.7 356.4,182.4 368.1,165.5 379.8,148.7 391.5,131.9 403.2,131.9 414.9,64.5 426.6,64.5 438.3,98.2 450.0,64.5 461.7,47.7 473.4,30.8 485.1,30.8 496.8,14.0 508.5,64.5 520.2,30.8 531.9,30.8 543.6,30.8 555.3,30.8 567.0,14.0 578.7,14.0 590.4,14.0 602.1,14.0 613.8,14.0 625.5,30.8" stroke="#bfbf00" stroke-width="1.5" stroke-opacity="0.065"/>
<polyline fill="none" points="272.0,238.5 285.7,283.4 299.4,238.5 313.2,283.4 326.9,283.4 340.6,260.9 354.3,238.5 368.0,260.9 381.8,216.0 395.5,216.0 409.2,171.1 422.9,171.1 436.6,103.8 450.4,36.5 464.1,36.5 477.8,14.0 491.5,103.8 505.2,36.5 519.0,14.0 532.7,36.5 546.4,14.0 560.1,36.5 573.8,14.0 587.6,14.0 601.3,36.5 615.0,14.0 628.7,14.0" stroke="#008000" stroke-width="1.5" stroke-opacity="0.065"/>
<polyline fill="none" points="272.0,283.4 285.7,260.9 299.4,283.4 313.2,238.5 326.9,238.5 340.6,283.4 354.3,216.0 368.0,193.6 381.8,193.6 395.5,171.1 409.2,148.7 422.9,81.3 436.6,36.5 450.4,103.8 464.1,58.9 477.8,58.9 491.5,58.9 505.2,58.9 519.0,36.5 532.7,14.0 546.4,36.5 560.1,14.0 573.8,36.5 587.6,14.0 601.3,14.0 615.0,14.0 628.7,58.9" stroke="#008000" stroke-width="1.5" stroke-opacity="0.065"/>
<polyline fill="none" points="272.0,238.5 285.7,260.9 299.4,260.9 313.2,193.6 326.9,238.5 340.6,260.9 354.3,193.6 368.0,148.7 381.8,193.6 395.5,171.1 409.2,148.7 422.9,81.3 436.6,126.2 450.4,58.9 464.1,81.3 477.8,36.5 491.5,36.5 505.2,58.9 519.0,81.3 532.7,14.0 546.4,58.9 560.1,14.0 573.8,14.0 587.6,14.0 601.3,14.0 615.0,14.0 628.7,14.0" stroke="#008000" stroke-width="1.5" stroke-opacity="0.065"/>
<polyline fill="none" points="272.0,260.9 285.7,283.4 299.4,260.9 313.2,260.9 326.9,260.9 340.6,238.5 354.3,193.6 368.0,193.6 381.8,216.0 395.5,171.1 409.2,81.3 422.9,171.1 436.6,171.1 450.4,103.8 464.1,103.8 477.8,36.5 491.5,36.5 505.2,14.0 519.0,14.0 532.7,14.0 546.4,36.5 560.1,36.5 573.8,36.5 587.6,14.0 601.3,36.5 615.0,36.5 628.7,14.0" stroke="#008000" stroke-width="1.5" stroke-opacity="0.065"/>
<polyline fill="none" points="272.0,260.9 285.7,238.5 299.4,260.9 313.2,283.4 326.9,283.4 340.6,238.5 354.3,216.0 368.0,216.0 381.8,216.0 395.5,148.7 409.2,171.1 422.9,171.1 436.6,103.8 450.4,103.8 464.1,58.9 477.8,36.5 491.5,58.9 505.2,36.5 519.0,14.0 532.7,14.0 546.4,14.0 560.1,36.5 573.8,14.0 587.6,14.0 601.3,58.9 615.0,36.5 628.7,14.0" stroke="#008000" stroke-width="1.5" stroke-opacity="0.065"/>
<polyline fill="none" points="272.0,260.9 285.7,260.9 299.4,216.0 313.2,283.4 326.9,238.5 340.6,260.9 354.3,238.5 368.0,148.7 381.8,148.7 395.5,193.6 409.2,148.7 422.9,148.7 436.6,103.8 450.4,58.9 464.1,14.0 477.8,58.9 491.5,58.9 505.2,36.5 519.0,14.0 532.7,14.0 546.4,36.5 560.1,36.5 573.8,36.5 587.6,14.0 601.3,14.0 615.0,14.0 628.7,14.0" stroke="#008000" stroke-width="1.5" stroke-opacity="0.065"/>
<polyline fill="none" points="272.0,238.5 285.7,283.4 299.4,260.9 313.2,238.5 326.9,216.0 340.6,260.9 354.3,260.9 368.0,216.0 381.8,216.0 395.5,193.6 409.2,193.6 422.9,126.2 436.6,126.2 450.4,81.3 464.1,14.0 477.8,58.9 491.5,36.5 505.2,14.0 519.0,58.9 532.7,14.0 546.4,36.5 560.1,14.0 573.8,14.0 587.6,14.0 601.3,14.0 615.0,36.5 628.7,36.5" stroke="#008000" stroke-width="1.5" stroke-opacity="0.065"/>
<polyline fill="none" points="272.0,283.4 285.7,238.5 299.4,283.4 313.2,238.5 326.9,260.9 340.6,238.5 354.3,238.5 368.0,238.5 381.8,171.1 395.5,193.6 409.2,171.1 422.9,216.0 436.6,148.7 450.4,36.5 464.1,14.0 477.8,58.9 491.5,81.3 505.2,58.9 519.0,58.9 532.7,36.5 546.4,14.0 560.1,14.0 573.8,36.5 587.6,36.5 601.3,36.5 615.0,14.0 628.7,14.0" stroke="#008000" stroke-width="1.5" stroke-opacity="0.065"/>
<polyline fill="none" points="272.0,283.4 285.7,283.4 299.4,260.9 313.2,238.5 326.9,216.0 340.6,216.0 354.3,216.0 368.0,216.0 381.8,216.0 395.5,148.7 409.2,126.2 422.9,148.7 436.6,103.8 450.4,81.3 464.1,81.3 477.8,36.5 491.5,36.5 505.2,14.0 519.0,36.5 532.7,36.5 546.4,36.5 560.1,14.0 573.8,36.5 587.6,36.5 601.3,14.0 615.0,14.0 628.7,14.0" stroke="#008000" stroke-width="1.5" stroke-opacity="0.065"/>
<polyline fill="none" points="272.0,283.4 285.7,283.4 299.4,283.4 313.2,260.9 326.9,260.9 340.6,260.9 354.3,283.4 368.0,193.6 381.8,216.0 395.5,193.6 409.2,148.7 422.9,126.2 436.6,58.9 450.4,58.9 464.1,103.8 477.8,81.3 491.5,14.0 505.2,14.0 519.0,14.0 532.7,36.5 546.4,58.9 560.1,14.0 573.8,14.0 587.6,36.5 601.3,14.0 615.0,14.0 628.7,14.0" stroke="#008000" stroke-width="1.5" stroke-opacity="0.065"/>
<polyline fill="none" points="373.0,283.4 396.6,283.4 420.1,256.5 443.6,202.6 467.2,229.5 490.8,202.6 514.3,94.8 537.9,67.9 561.4,40.9 585.0,67.9 608.5,14.0 632.0,67.9 655.6,14.0" stroke="#0000ff" stroke-width="1.5" stroke-opacity="0.065"/>
<polyline fill="none" points="373.0,283.4 396.6,256.5 420.1,283.4 443.6,202.6 467.2,229.5 490.8,121.8 514.3,121.8 537.9,67.9 561.4,148.7 585.0,14.0 608.5,14.0 632.0,40.9 655.6,14.0" stroke="#0000ff" stroke-width="1.5" stroke-opacity="0.065"/>
<polyline fill="none" points="373.0,256.5 396.6,229.5 420.1,256.5 443.6,175.6 467.2,175.6 490.8,121.8 514.3,94.8 537.9,121.8 561.4,94.8 585.0,14.0 608.5,14.0 632.0,14.0 655.6,14.0" stroke="#0000ff" stroke-width="1.5" stroke-opacity="0.065"/>
<polyline fill="none" points="373.0,283.4 396.6,283.4 420.1,283.4 443.6,256.5 467.2,121.8 490.8,148.7 514.3,94.8 537.9,67.9 561.4,14.0 585.0,14.0 608.5,67.9 632.0,14.0 655.6,40.9" stroke="#0000ff" stroke-width="1.5" stroke-opacity="0.065"/>
<polyline fill="none" points="373.0,283.4 396.6,256.5 420.1,283.4 443.6,229.5 467.2,256.5 490.8,67.9 514.3,67.9 537.9,94.8 561.4,94.8 585.0,14.0 608.5,14.0 632.0,14.0 655.6,40.9" stroke="#0000ff" stroke-width="1.5" stroke-opacity="0.065"/>
<polyline fill="none" points="373.0,229.5 396.6,283.4 420.1,283.4 443.6,202.6 467.2,202.6 490.8,67.9 514.3,148.7 537.9,40.9 561.4,14.0 585.0,94.8 608.5,40.9 632.0,14.0 655.6,14.0" stroke="#0000ff" stroke-width="1.5" stroke-opacity="0.065"/>
<polyline fill="none" points="373.0,283.4 396.6,283.4 420.1,256.5 443.6,256.5 467.2,202.6 490.8,175.6 514.3,67.9 537.9,40.9 561.4,14.0 585.0,40.9 608.5,40.9 632.0,40.9 655.6,14.0" stroke="#0000ff" stroke-width="1.5" stroke-opacity="0.065"/>
<polyline fill="none" points="373.0,283.4 396.6,283.4 420.1,283.4 443.6,229.5 467.2,202.6 490.8,148.7 514.3,67.9 537.9,40.9 561.4,67.9 585.0,14.0 608.5,40.9 632.0,14.0 655.6,14.0" stroke="#0000ff" stroke-width="1.5" stroke-opacity="0.065"/>
<polyline fill="none" points="373.0,256.5 396.6,283.4 420.1,283.4 443.6,256.5 467.2,121.8 490.8,148.7 514.3,94.8 537.9,67.9 561.4,40.9 585.0,40.9 608.5,14.0 632.0,40.9 655.6,40.9" stroke="#0000ff" stroke-width="1.5" stroke-opacity="0.065"/>
<polyline fill="none" points="373.0,283.4 396.6,229.5 420.1,256.5 443.6,121.8 467.2,202.6 490.8,148.7 514.3,148.7 537.9,94.8 561.4,14.0 585.0,14.0 608.5,14.0 632.0,14.0 655.6,14.0" stroke="#0000ff" stroke-width="1.5" stroke-opacity="0.065"/>
<polyline fill="none" points="474.8,283.4 522.8,244.9 570.0,206.4 618.5,91.0 666.8,52.5" stroke="#800080" stroke-width="1.5" stroke-opacity="0.065"/>
<polyline fill="none" points="474.8,283.4 522.8,244.9 570.0,167.9 618.5,52.5 666.8,52.5" stroke="#800080" stroke-width="1.5" stroke-opacity="0.065"/>
<polyline fill="none" points="474.8,283.4 522.8,206.4 570.0,129.5 618.5,52.5 666.8,52.5" stroke="#800080" stroke-width="1.5" stroke-opacity="0.065"/>
<polyline fill="none" points="474.8,283.4 522.8,283.4 570.0,206.4 618.5,52.5 666.8,52.5" stroke="#800080" stroke-width="1.5" stroke-opacity="0.065"/>
<polyline fill="none" points="474.8,283.4 522.8,283.4 570.0,283.4 618.5,52.5 666.8,14.0" stroke="#800080" stroke-width="1.5" stroke-opacity="0.065"/>
<polyline fill="none" points="474.8,283.4 522.8,283.4 570.0,283.4 618.5,52.5 666.8,14.0" stroke="#800080" stroke-width="1.5" stroke-opacity="0.065"/>
<polyline fill="none" points="474.8,283.4 522.8,244.9 570.0,283.4 618.5,91.0 666.8,52.5" stroke="#800080" stroke-width="1.5" stroke-opacity="0.065"/>
<polyline fill="none" points="474.8,283.4 522.8,244.9 570.0,244.9 618.5,52.5 666.8,14.0" stroke="#800080" stroke-width="1.5" stroke-opacity="0.065"/>
<polyline fill="none" points="474.8,283.4 522.8,283.4 570.0,206.4 618.5,52.5 666.8,52.5" stroke="#800080" stroke-width="1.5" stroke-opacity="0.065"/>
<polyline fill="none" points="474.8,283.4 522.8,244.9 570.0,129.5 618.5,91.0 666.8,14.0" stroke="#800080" stroke-width="1.5" stroke-opacity="0.065"/>
<polyline fill="none" points="160.7,274.7 167.4,283.4 174.1,274.7 180.8,274.7 187.5,283.4 194.2,283.4 200.9,283.4 207.6,283.4 214.3,266.0 221.0,283.4 227.7,257.3 234.4,266.0 241.1,248.6 247.8,222.6 254.5,196.5 261.2,222.6 267.9,179.1 274.6,205.2 281.3,127.0 288.0,127.0 294.7,100.9 301.4,118.3 308.1,57.5 314.8,109.6 321.5,109.6 328.2,109.6 334.9,57.5 341.6,48.8 348.3,83.5 355.0,74.8 361.7,66.1 368.4,66.1 375.1,40.1 381.8,14.0 388.5,40.1 395.2,48.8 401.9,22.7 408.6,22.7 415.3,22.7 422.0,31.4 428.7,31.4 435.4,14.0 442.1,22.7 448.8,22.7 455.5,31.4 462.2,22.7 468.9,14.0 475.6,14.0 482.3,14.0 489.0,22.7 495.7,22.7 502.4,14.0 509.1,22.7 515.8,14.0 522.5,22.7 529.2,14.0 535.9,22.7 542.6,14.0 549.3,14.0 556.0,14.0 562.7,22.7 569.4,14.0 576.1,22.7 582.8,14.0 589.5,22.7" stroke="#ff0000" stroke-width="1.5" stroke-opacity="0.065"/>
<polyline fill="none" points="160.7,283.4 167.4,283.4 174.1,274.7 180.8,283.4 187.5,274.7 194.2,283.4 200.9,283.4 207.6,283.4 214.3,266.0 221.0,266.0 227.7,248.6 234.4,231.3 241.1,248.6 247.8,213.9 254.5,213.9 261.2,153.0 267.9,187.8 274.6,118.3 281.3,153.0 288.0,153.0 294.7,144.4 301.4,135.7 308.1,92.2 314.8,66.1 321.5,40.1 328.2,100.9 334.9,48.8 341.6,74.8 348.3,48.8 355.0,48.8 361.7,74.8 368.4,40.1 375.1,22.7 381.8,48.8 388.5,14.0 395.2,31.4 401.9,40.1 408.6,22.7 415.3,40.1 422.0,14.0 428.7,22.7 435.4,40.1 442.1,31.4 448.8,22.7 455.5,22.7 462.2,14.0 468.9,31.4 475.6,14.0 482.3,22.7 489.0,14.0 495.7,22.7 502.4,14.0 509.1,22.7 515.8,22.7 522.5,14.0 529.2,14.0 535.9,14.0 542.6,22.7 549.3,22.7 556.0,14.0 562.7,31.4 569.4,22.7 576.1,14.0 582.8,22.7 589.5,22.7" stroke="#ff0000" stroke-width="1.5" stroke-opacity="0.065"/>
<polyline fill="none" points="160.7,274.7 167.4,274.7 174.1,283.4 180.8,283.4 187.5,274.7 194.2,274.7 200.9,283.4 207.6,274.7 214.3,274.7 221.0,248.6 227.7,266.0 234.4,239.9 241.1,231.3 247.8,239.9 254.5,161.7 261.2,179.1 267.9,205.2 274.6,179.1 281.3,179.1 288.0,170.4 294.7,100.9 301.4,161.7 308.1,92.2 314.8,92.2 321.5,66.1 328.2,83.5 334.9,74.8 341.6,83.5 348.3,57.5 355.0,40.1 361.7,48.8 368.4,14.0 375.1,40.1 381.8,14.0 388.5,48.8 395.2,40.1 401.9,40.1 408.6,31.4 415.3,14.0 422.0,14.0 428.7,40.1 435.4,14.0 442.1,22.7 448.8,14.0 455.5,22.7 462.2,22.7 468.9,14.0 475.6,14.0 482.3,14.0 489.0,22.7 495.7,14.0 502.4,14.0 509.1,14.0 515.8,22.7 522.5,31.4 529.2,14.0 535.9,31.4 542.6,14.0 549.3,14.0 556.0,14.0 562.7,31.4 569.4,14.0 576.1,22.7 582.8,14.0 589.5,14.0" stroke="#ff0000" stroke-width="1.5" stroke-opacity="0.065"/>
<polyline fill="none" points="160.7,283.4 167.4,283.4 174.1,283.4 180.8,274.7 187.5,283.4 194.2,274.7 200.9,283.4 207.6,283.4 214.3,274.7 221.0,266.0 227.7,257.3 234.4,257.3 241.1,257.3 247.8,248.6 254.5,222.6 261.2,196.5 267.9,153.0 274.6,196.5 281.3,170.4 288.0,135.7 294.7,135.7 301.4,100.9 308.1,92.2 314.8,144.4 321.5,40.1 328.2,48.8 334.9,48.8 341.6,66.1 348.3,40.1 355.0,40.1 361.7,48.8 368.4,40.1 375.1,31.4 381.8,57.5 388.5,31.4 395.2,14.0 401.9,40.1 408.6,48.8 415.3,22.7 422.0,31.4 428.7,14.0 435.4,22.7 442.1,57.5 448.8,22.7 455.5,22.7 462.2,14.0 468.9,14.0 475.6,14.0 482.3,14.0 489.0,22.7 495.7,22.7 502.4,14.0 509.1,14.0 515.8,31.4 522.5,22.7 529.2,14.0 535.9,40.1 542.6,14.0 549.3,14.0 556.0,14.0 562.7,14.0 569.4,14.0 576.1,14.0 582.8,14.0 589.5,14.0" stroke="#ff0000" stroke-width="1.5" stroke-opacity="0.065"/>
<polyline fill="none" points="160.7,283.4 167.4,283.4 174.1,274.7 180.8,283.4 187.5,266.0 194.2,283.4 200.9,283.4 207.6,274.7 214.3,283.4 221.0,239.9 227.7,266.0 234.4,231.3 241.1,248.6 247.8,213.9 254.5,231.3 261.2,187.8 267.9,205.2 274.6,161.7 281.3,161.7 288.0,83.5 294.7,161.7 301.4,83.5 308.1,57.5 314.8,127.0 321.5,100.9 328.2,40.1 334.9,48.8 341.6,57.5 348.3,31.4 355.0,40.1 361.7,74.8 368.4,48.8 375.1,40.1 381.8,22.7 388.5,31.4 395.2,48.8 401.9,48.8 408.6,31.4 415.3,31.4 422.0,31.4 428.7,14.0 435.4,14.0 442.1,31.4 448.8,22.7 455.5,31.4 462.2,14.0 468.9,22.7 475.6,22.7 482.3,22.7 489.0,14.0 495.7,14.0 502.4,22.7 509.1,14.0 515.8,14.0 522.5,14.0 529.2,14.0 535.9,22.7 542.6,14.0 549.3,22.7 556.0,14.0 562.7,14.0 569.4,22.7 576.1,14.0 582.8,14.0 589.5,14.0" stroke="#ff0000" stroke-width="1.5" stroke-opacity="0.065"/>
<polyline fill="none" points="160.7,274.7 167.4,266.0 174.1,283.4 180.8,283.4 187.5,283.4 194.2,274.7 200.9,283.4 207.6,283.4 214.3,274.7 221.0,266.0 227.7,274.7 234.4,266.0 241.1,266.0 247.8,231.3 254.5,239.9 261.2,222.6 267.9,196.5 274.6,179.1 281.3,161.7 288.0,144.4 294.7,83.5 301.4,66.1 308.1,92.2 314.8,83.5 321.5,127.0 328.2,31.4 334.9,83.5 341.6,40.1 348.3,57.5 355.0,57.5 361.7,57.5 368.4,31.4 375.1,48.8 381.8,14.0 388.5,31.4 395.2,57.5 401.9,40.1 408.6,22.7 415.3,22.7 422.0,22.7 428.7,22.7 435.4,48.8 442.1,14.0 448.8,31.4 455.5,31.4 462.2,14.0 468.9,31.4 475.6,40.1 482.3,22.7 489.0,14.0 495.7,14.0 502.4,22.7 509.1,22.7 515.8,14.0 522.5,22.7 529.2,14.0 535.9,40.1 542.6,14.0 549.3,14.0 556.0,14.0 562.7,14.0 569.4,22.7 576.1,14.0 582.8,31.4 589.5,14.0" stroke="#ff0000" stroke-width="1.5" stroke-opacity="0.065"/>
<polyline fill="none" points="160.7,266.0 167.4,283.4 174.1,283.4 180.8,274.7 187.5,283.4 194.2,283.4 200.9,283.4 207.6,266.0 214.3,274.7 221.0,257.3 227.7,257.3 234.4,222.6 241.1,239.9 247.8,239.9 254.5,205.2 261.2,196.5 267.9,187.8 274.6,205.2 281.3,100.9 288.0,109.6 294.7,118.3 301.4,127.0 308.1,83.5 314.8,74.8 321.5,57.5 328.2,48.8 334.9,74.8 341.6,48.8 348.3,31.4 355.0,74.8 361.7,31.4 368.4,40.1 375.1,40.1 381.8,40.1 388.5,31.4 395.2,31.4 401.9,40.1 408.6,31.4 415.3,22.7 422.0,22.7 428.7,22.7 435.4,22.7 442.1,40.1 448.8,22.7 455.5,31.4 462.2,22.7 468.9,14.0 475.6,40.1 482.3,14.0 489.0,14.0 495.7,14.0 502.4,14.0 509.1,14.0 515.8,14.0 522.5,40.1 529.2,22.7 535.9,14.0 542.6,22.7 549.3,22.7 556.0,22.7 562.7,14.0 569.4,22.7 576.1,14.0 582.8,14.0 589.5,14.0" stroke="#ff0000" stroke-width="1.5" stroke-opacity="0.065"/>
<polyline fill="none" points="160.7,283.4 167.4,283.4 174.1,283.4 180.8,283.4 187.5,283.4 194.2,283.4 200.9,283.4 207.6,266.0 214.3,274.7 221.0,266.0 227.7,248.6 234.4,222.6 241.1,196.5 247.8,248.6 254.5,239.9 261.2,222.6 267.9,153.0 274.6,144.4 281.3,153.0 288.0,144.4 294.7,118.3 301.4,127.0 308.1,109.6 314.8,83.5 321.5,57.5 328.2,74.8 334.9,31.4 341.6,57.5 348.3,48.8 355.0,48.8 361.7,31.4 368.4,40.1 375.1,57.5 381.8,22.7 388.5,14.0 395.2,22.7 401.9,14.0 408.6,40.1 415.3,22.7 422.0,31.4 428.7,31.4 435.4,22.7 442.1,31.4 448.8,14.0 455.5,14.0 462.2,22.7 468.9,14.0 475.6,22.7 482.3,22.7 489.0,22.7 495.7,22.7 502.4,14.0 509.1,14.0 515.8,31.4 522.5,14.0 529.2,14.0 535.9,22.7 542.6,22.7 549.3,14.0 556.0,22.7 562.7,22.7 569.4,22.7 576.1,14.0 582.8,22.7 589.5,22.7" stroke="#ff0000" stroke-width="1.5" stroke-opacity="0.065"/>
<polyline fill="none" points="160.7,266.0 167.4,283.4 174.1,274.7 180.8,283.4 187.5,274.7 194.2,283.4 200.9,283.4 207.6,283.4 214.3,283.4 221.0,266.0 227.7,257.3 234.4,239.9 241.1,231.3 247.8,231.3 254.5,205.2 261.2,239.9 267.9,187.8 274.6,170.4 281.3,135.7 288.0,135.7 294.7,92.2 301.4,118.3 308.1,118.3 314.8,92.2 321.5,109.6 328.2,83.5 334.9,57.5 341.6,57.5 348.3,40.1 355.0,48.8 361.7,22.7 368.4,40.1 375.1,57.5 381.8,40.1 388.5,31.4 395.2,22.7 401.9,14.0 408.6,22.7 415.3,40.1 422.0,22.7 428.7,14.0 435.4,22.7 442.1,31.4 448.8,22.7 455.5,22.7 462.2,14.0 468.9,14.0 475.6,22.7 482.3,14.0 489.0,14.0 495.7,31.4 502.4,14.0 509.1,14.0 515.8,14.0 522.5,22.7 529.2,14.0 535.9,14.0 542.6,14.0 549.3,14.0 556.0,14.0 562.7,14.0 569.4,14.0 576.1,14.0 582.8,31.4 589.5,14.0" stroke="#ff0000" stroke-width="1.5" stroke-opacity="0.065"/>
<polyline fill="none" points="160.7,274.7 167.4,248.6 174.1,283.4 180.8,283.4 187.5,283.4 194.2,283.4 200.9,274.7 207.6,283.4 214.3,283.4 221.0,274.7 227.7,248.6 234.4,257.3 241.1,239.9 247.8,248.6 254.5,144.4 261.2,196.5 267.9,196.5 274.6,187.8 281.3,179.1 288.0,127.0 294.7,153.0 301.4,83.5 308.1,127.0 314.8,127.0 321.5,66.1 328.2,40.1 334.9,48.8 341.6,31.4 348.3,57.5 355.0,48.8 361.7,40.1 368.4,66.1 375.1,66.1 381.8,40.1 388.5,40.1 395.2,57.5 401.9,31.4 408.6,40.1 415.3,31.4 422.0,22.7 428.7,40.1 435.4,31.4 442.1,14.0 448.8,14.0 455.5,14.0 462.2,14.0 468.9,14.0 475.6,14.0 482.3,31.4 489.0,14.0 495.7,14.0 502.4,22.7 509.1,14.0 515.8,14.0 522.5,22.7 529.2,14.0 535.9,14.0 542.6,22.7 549.3,14.0 556.0,14.0 562.7,14.0 569.4,14.0 576.1,14.0 582.8,14.0 589.5,14.0" stroke="#ff0000" stroke-width="1.5" stroke-opacity="0.065"/>
<path d="M73.40 284.5V281.9M79.08 284.5V281.9M84.76 284.8V281.2M90.44 285.0V280.6M96.12 285.3V279.1M101.80 285.4V277.0M107.48 285.3V276.3M113.16 285.3V275.5M118.84 285.2V275.2M124.52 285.3V275.5M130.20 285.3V275.9M135.88 285.1V274.5M141.56 284.3V270.9M147.24 282.9V266.6M152.92 281.0V261.8M158.60 279.2V258.0M164.28 278.4V256.5M169.96 277.1V254.1M175.64 274.1V248.8M181.32 269.6V241.4M187.00 265.3V234.7M192.68 261.2V228.7M198.36 257.5V223.6M204.04 254.2V219.1M209.72 248.5V211.5M215.40 237.3V197.5M221.08 229.8V188.4M226.76 224.0V181.6M232.44 219.8V176.8M238.12 211.9V167.8M243.80 203.8V158.8M249.48 197.3V151.9M255.16 191.4V145.5M260.84 184.1V137.9M266.52 177.3V131.0M272.20 170.7V124.4M277.88 164.5V118.2M283.56 157.8V111.7M289.24 150.8V105.0M294.92 140.5V95.4M300.60 132.3V87.9M306.28 127.3V83.5M311.96 125.1V81.5M317.64 124.2V80.7M323.32 117.1V74.5M329.00 109.0V67.6M334.68 104.4V63.7M340.36 100.8V60.8M346.04 96.6V57.4M351.72 90.0V52.1M357.40 82.8V46.6M363.08 78.5V43.4M368.76 79.0V43.7M374.44 80.0V44.5M380.12 77.6V42.7M385.80 73.3V39.5M391.48 68.1V35.9M397.16 63.7V32.8M402.84 59.8V30.3M408.52 60.3V30.5M414.20 60.6V30.8M419.88 61.0V31.0M425.56 60.3V30.6M431.24 59.3V29.9M436.92 57.3V28.6M442.60 55.4V27.4M448.28 53.9V26.5M453.96 53.2V26.0M459.64 52.5V25.6M465.32 50.5V24.4M471.00 48.5V23.2M476.68 50.0V24.1M482.36 50.7V24.5M488.04 49.8V23.9M493.72 49.0V23.5M499.40 48.5V23.2M505.08 47.3V22.5M510.76 45.8V21.7M516.44 45.4V21.4M522.12 45.2V21.3M527.80 44.0V20.6M533.48 42.6V19.9M539.16 41.2V19.2M544.84 40.3V18.7M550.52 39.6V18.4M556.20 39.8V18.5M561.88 44.8V21.1M567.56 47.2V22.5M573.24 47.1V22.4M578.92 46.7V22.2" stroke="#ff0000" stroke-width="1.08" fill="none"/>
<polyline fill="none" points="73.4,283.2 79.1,283.2 84.8,283.0 90.4,282.8 96.1,282.2 101.8,281.2 107.5,280.8 113.2,280.4 118.8,280.2 124.5,280.4 130.2,280.6 135.9,279.8 141.6,277.6 147.2,274.8 152.9,271.4 158.6,268.6 164.3,267.4 170.0,265.6 175.6,261.5 181.3,255.5 187.0,250.0 192.7,245.0 198.4,240.6 204.0,236.6 209.7,230.0 215.4,217.4 221.1,209.1 226.8,202.8 232.4,198.3 238.1,189.8 243.8,181.3 249.5,174.6 255.2,168.5 260.8,161.0 266.5,154.2 272.2,147.6 277.9,141.3 283.6,134.7 289.2,127.9 294.9,118.0 300.6,110.1 306.3,105.4 312.0,103.3 317.6,102.5 323.3,95.8 329.0,88.3 334.7,84.1 340.4,80.8 346.0,77.0 351.7,71.1 357.4,64.7 363.1,61.0 368.8,61.4 374.4,62.2 380.1,60.2 385.8,56.4 391.5,52.0 397.2,48.2 402.8,45.1 408.5,45.4 414.2,45.7 419.9,46.0 425.6,45.4 431.2,44.6 436.9,42.9 442.6,41.4 448.3,40.2 454.0,39.6 459.6,39.0 465.3,37.4 471.0,35.8 476.7,37.1 482.4,37.6 488.0,36.8 493.7,36.2 499.4,35.8 505.1,34.9 510.8,33.7 516.4,33.4 522.1,33.2 527.8,32.3 533.5,31.2 539.2,30.2 544.8,29.5 550.5,29.0 556.2,29.1 561.9,32.9 567.6,34.9 573.2,34.7 578.9,34.5" stroke="#ff0000" stroke-width="1.7"/>
<path d="M161.00 286.9V272.3M170.03 286.9V272.3M179.06 286.9V272.3M188.09 286.9V272.3M197.12 286.9V272.3M206.15 286.9V272.3M215.18 286.9V271.2M224.21 286.7V269.5M233.24 285.8V264.4M242.27 283.1V255.6M251.30 277.9V243.5M260.33 271.6V231.7M269.36 264.1V219.3M278.39 254.8V205.4M287.42 245.0V192.1M296.45 235.6V179.9M305.48 227.3V169.7M314.51 220.1V161.2M323.54 214.9V155.2M332.57 208.4V147.9M341.60 198.3V136.9M350.63 184.0V122.1M359.66 167.5V105.7M368.69 152.9V92.2M377.72 142.1V82.5M386.75 133.1V74.6M395.78 123.0V66.3M404.81 114.1V59.1M413.84 106.1V53.0M422.87 97.8V46.8M431.90 92.0V42.6M440.93 86.1V38.6M449.96 75.6V31.7M458.99 67.1V26.6M468.02 62.7V24.1M477.05 60.1V22.7M486.08 60.1V22.7M495.11 59.8V22.5M504.14 56.3V20.7M513.17 53.7V19.4M522.20 51.3V18.2M531.23 50.1V17.7M540.26 48.8V17.1M549.29 47.2V16.4M558.32 45.7V15.8M567.35 44.6V15.3M576.38 43.6V14.9M585.41 42.7V14.6M594.44 41.7V14.2M603.47 40.6V13.8M612.50 39.2V13.4M621.53 37.9V12.9" stroke="#ffa500" stroke-width="1.08" fill="none"/>
<polyline fill="none" points="161.0,279.6 170.0,279.6 179.1,279.6 188.1,279.6 197.1,279.6 206.2,279.6 215.2,279.0 224.2,278.1 233.2,275.1 242.3,269.3 251.3,260.7 260.3,251.6 269.4,241.7 278.4,230.1 287.4,218.5 296.4,207.7 305.5,198.5 314.5,190.7 323.5,185.0 332.6,178.2 341.6,167.6 350.6,153.1 359.7,136.6 368.7,122.6 377.7,112.3 386.8,103.8 395.8,94.6 404.8,86.6 413.8,79.5 422.9,72.3 431.9,67.3 440.9,62.4 450.0,53.6 459.0,46.8 468.0,43.4 477.0,41.4 486.1,41.4 495.1,41.2 504.1,38.5 513.2,36.5 522.2,34.8 531.2,33.9 540.3,33.0 549.3,31.8 558.3,30.7 567.3,29.9 576.4,29.3 585.4,28.6 594.4,28.0 603.5,27.2 612.5,26.3 621.5,25.4" stroke="#ffa500" stroke-width="1.7"/>
<path d="M216.00 287.1V265.9M227.70 287.1V265.9M239.40 287.1V265.9M251.10 287.1V265.9M262.80 286.7V263.4M274.50 285.1V257.0M286.20 281.9V247.7M297.90 273.7V230.5M309.60 260.4V208.4M321.30 251.1V194.9M333.00 240.9V181.3M344.70 228.7V165.9M356.40 216.9V151.9M368.10 201.4V134.7M379.80 185.0V117.6M391.50 165.9V99.1M403.20 147.8V82.5M414.90 125.3V63.6M426.60 106.2V49.0M438.30 94.5V40.7M450.00 87.8V36.2M461.70 80.8V31.8M473.40 72.6V26.9M485.10 67.0V23.8M496.80 63.5V21.9M508.50 57.0V18.8M520.20 50.8V16.0M531.90 46.5V14.3M543.60 43.2V13.1M555.30 41.4V12.6M567.00 40.2V12.2M578.70 39.4V12.0M590.40 39.6V12.0M602.10 38.9V11.8M613.80 33.3V10.5M625.50 27.3V9.9" stroke="#bfbf00" stroke-width="1.08" fill="none"/>
<polyline fill="none" points="216.0,276.5 227.7,276.5 239.4,276.5 251.1,276.5 262.8,275.0 274.5,271.1 286.2,264.8 297.9,252.1 309.6,234.4 321.3,223.0 333.0,211.1 344.7,197.3 356.4,184.4 368.1,168.1 379.8,151.3 391.5,132.5 403.2,115.2 414.9,94.5 426.6,77.6 438.3,67.6 450.0,62.0 461.7,56.3 473.4,49.7 485.1,45.4 496.8,42.7 508.5,37.9 520.2,33.4 531.9,30.4 543.6,28.1 555.3,27.0 567.0,26.2 578.7,25.7 590.4,25.8 602.1,25.4 613.8,21.9 625.5,18.6" stroke="#bfbf00" stroke-width="1.7"/>
<path d="M272.00 283.0V261.0M285.72 281.6V253.5M299.44 280.1V245.9M313.16 278.0V238.7M326.88 274.7V229.2M340.60 268.8V216.0M354.32 259.2V196.9M368.04 246.3V173.6M381.76 229.8V150.9M395.48 208.5V127.6M409.20 184.8V104.3M422.92 163.3V85.7M436.64 139.4V66.8M450.36 112.1V47.0M464.08 94.6V33.3M477.80 84.2V26.1M491.52 73.5V19.8M505.24 61.7V15.9M518.96 51.7V15.7M532.68 47.0V14.5M546.40 43.0V13.1M560.12 39.9V12.1M573.84 37.7V11.5M587.56 35.3V10.9M601.28 32.4V10.4M615.00 28.6V9.9M628.72 25.4V9.9" stroke="#008000" stroke-width="1.08" fill="none"/>
<polyline fill="none" points="272.0,272.0 285.7,267.6 299.4,263.0 313.2,258.3 326.9,251.9 340.6,242.4 354.3,228.1 368.0,209.9 381.8,190.3 395.5,168.0 409.2,144.6 422.9,124.5 436.6,103.1 450.4,79.5 464.1,64.0 477.8,55.1 491.5,46.6 505.2,38.8 519.0,33.7 532.7,30.7 546.4,28.0 560.1,26.0 573.8,24.6 587.6,23.1 601.3,21.4 615.0,19.3 628.7,17.6" stroke="#008000" stroke-width="1.7"/>
<path d="M373.00 288.8V263.2M396.55 287.2V252.8M420.10 280.0V223.2M443.65 259.2V175.2M467.20 222.0V132.0M490.75 182.8V100.0M514.30 150.0V73.6M537.85 125.0V44.6M561.40 89.0V28.0M584.95 65.0V13.0M608.50 52.4V12.0M632.05 49.7V10.5M655.60 50.6V7.5" stroke="#0000ff" stroke-width="1.08" fill="none"/>
<polyline fill="none" points="373.0,276.0 396.6,270.0 420.1,251.2 443.6,216.4 467.2,177.2 490.8,142.0 514.3,110.8 537.9,84.8 561.4,57.6 585.0,39.0 608.5,32.4 632.0,30.3 655.6,29.6" stroke="#0000ff" stroke-width="1.7"/>
<path d="M474.80 290.0V262.0M522.80 287.2V224.0M570.00 242.0V128.0M618.50 105.2V53.2M666.80 69.9V15.5" stroke="#800080" stroke-width="1.08" fill="none"/>
<polyline fill="none" points="474.8,276.0 522.8,255.2 570.0,186.0 618.5,78.8 666.8,43.3" stroke="#800080" stroke-width="1.7"/>
<path d="M160.70 285.4V274.6M167.40 285.4V274.6M174.10 285.4V274.6M180.80 285.4V274.6M187.50 285.4V274.6M194.20 285.3V274.1M200.90 285.1V272.5M207.60 284.2V268.9M214.30 281.8V262.2M221.00 277.9V253.9M227.70 272.6V244.5M234.40 266.6V234.9M241.10 259.8V224.9M247.80 251.3V213.3M254.50 238.7V197.1M261.20 225.1V180.7M267.90 210.3V163.8M274.60 194.9V147.0M281.30 178.1V129.6M288.00 161.8V113.5M294.70 145.9V98.3M301.40 131.7V85.5M308.10 122.3V77.1M314.80 111.0V67.4M321.50 100.1V58.5M328.20 90.9V51.3M334.90 83.9V45.9M341.60 78.6V42.0M348.30 72.3V37.5M355.00 65.3V32.7M361.70 60.5V29.5M368.40 55.6V26.4M375.10 52.5V24.6M381.80 49.4V22.8M388.50 46.2V21.0M395.20 42.9V19.3M401.90 41.5V18.5M408.60 40.1V17.9M415.30 39.4V17.6M422.00 38.8V17.2M428.70 37.6V16.7M435.40 36.4V16.2M442.10 35.5V15.8M448.80 34.6V15.4M455.50 33.9V15.1M462.20 33.1V14.8M468.90 31.7V14.3M475.60 30.3V13.8M482.30 29.0V13.4M489.00 27.8V13.0M495.70 26.5V12.7M502.40 25.9V12.5M509.10 25.3V12.4M515.80 24.8V12.3M522.50 24.3V12.2M529.20 23.8V12.1M535.90 23.3V12.0M542.60 22.8V12.0M549.30 22.3V11.9M556.00 22.0V11.9M562.70 21.9V11.9M569.40 21.7V11.9M576.10 22.1V11.9M582.80 22.4V11.9M589.50 22.8V12.0" stroke="#ff0000" stroke-width="1.08" fill="none"/>
<polyline fill="none" points="160.7,280.0 167.4,280.0 174.1,280.0 180.8,280.0 187.5,280.0 194.2,279.7 200.9,278.8 207.6,276.5 214.3,272.0 221.0,265.9 227.7,258.5 234.4,250.7 241.1,242.4 247.8,232.3 254.5,217.9 261.2,202.9 267.9,187.0 274.6,171.0 281.3,153.8 288.0,137.7 294.7,122.1 301.4,108.6 308.1,99.7 314.8,89.2 321.5,79.3 328.2,71.1 334.9,64.9 341.6,60.3 348.3,54.9 355.0,49.0 361.7,45.0 368.4,41.0 375.1,38.5 381.8,36.1 388.5,33.6 395.2,31.1 401.9,30.0 408.6,29.0 415.3,28.5 422.0,28.0 428.7,27.1 435.4,26.3 442.1,25.6 448.8,25.0 455.5,24.5 462.2,24.0 468.9,23.0 475.6,22.0 482.3,21.2 489.0,20.4 495.7,19.6 502.4,19.2 509.1,18.9 515.8,18.5 522.5,18.2 529.2,18.0 535.9,17.7 542.6,17.4 549.3,17.1 556.0,17.0 562.7,16.9 569.4,16.8 576.1,17.0 582.8,17.2 589.5,17.4" stroke="#ff0000" stroke-width="1.7" stroke-dasharray="6.1 2.8"/>
</g>
<rect x="42.6" y="0.45" width="653.1999999999999" height="296.5" fill="none" stroke="#000" stroke-width="1"/>
<line x1="45.98" y1="296.95" x2="45.98" y2="299.15" stroke="#000" stroke-width="0.7"/>
<line x1="54.25" y1="296.95" x2="54.25" y2="299.15" stroke="#000" stroke-width="0.7"/>
<line x1="61.42" y1="296.95" x2="61.42" y2="299.15" stroke="#000" stroke-width="0.7"/>
<line x1="67.74" y1="296.95" x2="67.74" y2="299.15" stroke="#000" stroke-width="0.7"/>
<line x1="73.40" y1="296.95" x2="73.40" y2="300.85" stroke="#000" stroke-width="0.9"/>
<line x1="110.61" y1="296.95" x2="110.61" y2="299.15" stroke="#000" stroke-width="0.7"/>
<line x1="132.37" y1="296.95" x2="132.37" y2="299.15" stroke="#000" stroke-width="0.7"/>
<line x1="147.81" y1="296.95" x2="147.81" y2="299.15" stroke="#000" stroke-width="0.7"/>
<line x1="159.79" y1="296.95" x2="159.79" y2="299.15" stroke="#000" stroke-width="0.7"/>
<line x1="169.58" y1="296.95" x2="169.58" y2="299.15" stroke="#000" stroke-width="0.7"/>
<line x1="177.85" y1="296.95" x2="177.85" y2="299.15" stroke="#000" stroke-width="0.7"/>
<line x1="185.02" y1="296.95" x2="185.02" y2="299.15" stroke="#000" stroke-width="0.7"/>
<line x1="191.34" y1="296.95" x2="191.34" y2="299.15" stroke="#000" stroke-width="0.7"/>
<line x1="197.00" y1="296.95" x2="197.00" y2="300.85" stroke="#000" stroke-width="0.9"/>
<line x1="234.21" y1="296.95" x2="234.21" y2="299.15" stroke="#000" stroke-width="0.7"/>
<line x1="255.97" y1="296.95" x2="255.97" y2="299.15" stroke="#000" stroke-width="0.7"/>
<line x1="271.41" y1="296.95" x2="271.41" y2="299.15" stroke="#000" stroke-width="0.7"/>
<line x1="283.39" y1="296.95" x2="283.39" y2="299.15" stroke="#000" stroke-width="0.7"/>
<line x1="293.18" y1="296.95" x2="293.18" y2="299.15" stroke="#000" stroke-width="0.7"/>
<line x1="301.45" y1="296.95" x2="301.45" y2="299.15" stroke="#000" stroke-width="0.7"/>
<line x1="308.62" y1="296.95" x2="308.62" y2="299.15" stroke="#000" stroke-width="0.7"/>
<line x1="314.94" y1="296.95" x2="314.94" y2="299.15" stroke="#000" stroke-width="0.7"/>
<line x1="320.60" y1="296.95" x2="320.60" y2="300.85" stroke="#000" stroke-width="0.9"/>
<line x1="357.81" y1="296.95" x2="357.81" y2="299.15" stroke="#000" stroke-width="0.7"/>
<line x1="379.57" y1="296.95" x2="379.57" y2="299.15" stroke="#000" stroke-width="0.7"/>
<line x1="395.01" y1="296.95" x2="395.01" y2="299.15" stroke="#000" stroke-width="0.7"/>
<line x1="406.99" y1="296.95" x2="406.99" y2="299.15" stroke="#000" stroke-width="0.7"/>
<line x1="416.78" y1="296.95" x2="416.78" y2="299.15" stroke="#000" stroke-width="0.7"/>
<line x1="425.05" y1="296.95" x2="425.05" y2="299.15" stroke="#000" stroke-width="0.7"/>
<line x1="432.22" y1="296.95" x2="432.22" y2="299.15" stroke="#000" stroke-width="0.7"/>
<line x1="438.54" y1="296.95" x2="438.54" y2="299.15" stroke="#000" stroke-width="0.7"/>
<line x1="444.20" y1="296.95" x2="444.20" y2="300.85" stroke="#000" stroke-width="0.9"/>
<line x1="481.41" y1="296.95" x2="481.41" y2="299.15" stroke="#000" stroke-width="0.7"/>
<line x1="503.17" y1="296.95" x2="503.17" y2="299.15" stroke="#000" stroke-width="0.7"/>
<line x1="518.61" y1="296.95" x2="518.61" y2="299.15" stroke="#000" stroke-width="0.7"/>
<line x1="530.59" y1="296.95" x2="530.59" y2="299.15" stroke="#000" stroke-width="0.7"/>
<line x1="540.38" y1="296.95" x2="540.38" y2="299.15" stroke="#000" stroke-width="0.7"/>
<line x1="548.65" y1="296.95" x2="548.65" y2="299.15" stroke="#000" stroke-width="0.7"/>
<line x1="555.82" y1="296.95" x2="555.82" y2="299.15" stroke="#000" stroke-width="0.7"/>
<line x1="562.14" y1="296.95" x2="562.14" y2="299.15" stroke="#000" stroke-width="0.7"/>
<line x1="567.80" y1="296.95" x2="567.80" y2="300.85" stroke="#000" stroke-width="0.9"/>
<line x1="605.01" y1="296.95" x2="605.01" y2="299.15" stroke="#000" stroke-width="0.7"/>
<line x1="626.77" y1="296.95" x2="626.77" y2="299.15" stroke="#000" stroke-width="0.7"/>
<line x1="642.21" y1="296.95" x2="642.21" y2="299.15" stroke="#000" stroke-width="0.7"/>
<line x1="654.19" y1="296.95" x2="654.19" y2="299.15" stroke="#000" stroke-width="0.7"/>
<line x1="663.98" y1="296.95" x2="663.98" y2="299.15" stroke="#000" stroke-width="0.7"/>
<line x1="672.25" y1="296.95" x2="672.25" y2="299.15" stroke="#000" stroke-width="0.7"/>
<line x1="679.42" y1="296.95" x2="679.42" y2="299.15" stroke="#000" stroke-width="0.7"/>
<line x1="685.74" y1="296.95" x2="685.74" y2="299.15" stroke="#000" stroke-width="0.7"/>
<line x1="691.40" y1="296.95" x2="691.40" y2="300.85" stroke="#000" stroke-width="0.9"/>
<line x1="38.80" y1="283.40" x2="42.60" y2="283.40" stroke="#000" stroke-width="0.9"/>
<text x="35" y="288.3" font-size="11.4" text-anchor="end">0.0</text>
<line x1="38.80" y1="229.52" x2="42.60" y2="229.52" stroke="#000" stroke-width="0.9"/>
<text x="35" y="234.4" font-size="11.4" text-anchor="end">0.2</text>
<line x1="38.80" y1="175.64" x2="42.60" y2="175.64" stroke="#000" stroke-width="0.9"/>
<text x="35" y="180.5" font-size="11.4" text-anchor="end">0.4</text>
<line x1="38.80" y1="121.76" x2="42.60" y2="121.76" stroke="#000" stroke-width="0.9"/>
<text x="35" y="126.7" font-size="11.4" text-anchor="end">0.6</text>
<line x1="38.80" y1="67.88" x2="42.60" y2="67.88" stroke="#000" stroke-width="0.9"/>
<text x="35" y="72.8" font-size="11.4" text-anchor="end">0.8</text>
<line x1="38.80" y1="14.00" x2="42.60" y2="14.00" stroke="#000" stroke-width="0.9"/>
<text x="35" y="18.9" font-size="11.4" text-anchor="end">1.0</text>
<text x="59.8" y="313.8" font-size="11.4">10<tspan dy="-4.4" font-size="7.7">−1</tspan></text>
<text x="186.8" y="313.8" font-size="11.4">10<tspan dy="-4.4" font-size="7.7">0</tspan></text>
<text x="310.4" y="313.8" font-size="11.4">10<tspan dy="-4.4" font-size="7.7">1</tspan></text>
<text x="434.0" y="313.8" font-size="11.4">10<tspan dy="-4.4" font-size="7.7">2</tspan></text>
<text x="557.6" y="313.8" font-size="11.4">10<tspan dy="-4.4" font-size="7.7">3</tspan></text>
<text x="681.2" y="313.8" font-size="11.4">10<tspan dy="-4.4" font-size="7.7">4</tspan></text>
<text x="349.7" y="330.1" font-size="11.4"><tspan font-style="italic">M</tspan> (<tspan font-style="italic">M</tspan><tspan dy="2" font-size="8">⊙</tspan><tspan dy="-2">)</tspan></text>
<text transform="translate(9.2,149.3) rotate(-90)" font-size="11.3" text-anchor="middle">Completeness level <tspan font-style="italic" dy="1">η</tspan>(<tspan font-style="italic">M</tspan>)</text>
<rect x="48.5" y="6.5" width="221" height="118" rx="2.3" fill="#fff" fill-opacity="0.8" stroke="#ccc" stroke-width="1"/>
<line x1="52.10" y1="15.30" x2="76.20" y2="15.30" stroke="#ff0000" stroke-width="1.7"/>
<text x="84.2" y="19.4" font-size="11.32">Res.=20&quot;=0.14 pc, getsources</text>
<line x1="52.10" y1="31.78" x2="76.20" y2="31.78" stroke="#ffa500" stroke-width="1.7"/>
<text x="84.2" y="35.9" font-size="11.32">Res.=40&quot;=0.27 pc, getsources</text>
<line x1="52.10" y1="48.26" x2="76.20" y2="48.26" stroke="#bfbf00" stroke-width="1.7"/>
<text x="84.2" y="52.4" font-size="11.32">Res.=60&quot;=0.41 pc, getsources</text>
<line x1="52.10" y1="64.74" x2="76.20" y2="64.74" stroke="#008000" stroke-width="1.7"/>
<text x="84.2" y="68.8" font-size="11.32">Res.=80&quot;=0.54 pc, getsources</text>
<line x1="52.10" y1="81.22" x2="76.20" y2="81.22" stroke="#0000ff" stroke-width="1.7"/>
<text x="84.2" y="85.3" font-size="11.32">Res.=160&quot;=1.09 pc, getsources</text>
<line x1="52.10" y1="97.70" x2="76.20" y2="97.70" stroke="#800080" stroke-width="1.7"/>
<text x="84.2" y="101.8" font-size="11.32">Res.=320&quot;=2.17 pc, getsources</text>
<line x1="52.10" y1="114.18" x2="76.20" y2="114.18" stroke="#ff0000" stroke-width="1.7" stroke-dasharray="6.1 2.8"/>
<text x="84.2" y="118.3" font-size="11.32">Res.=20&quot;=0.14 pc, clumpfind</text>
</svg>
</body></html>
